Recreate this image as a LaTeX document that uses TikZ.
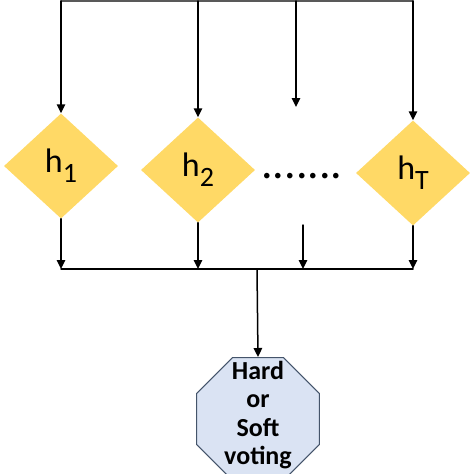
\documentclass[tikz,border=0pt]{standalone}
\usepackage{fontspec}
\setmainfont{Carlito}
\usepackage{tikz}
\usetikzlibrary{arrows.meta,shapes.geometric}
\definecolor{gold}{HTML}{FFD966}
\definecolor{paleblue}{HTML}{DAE3F3}
\definecolor{slate}{HTML}{44546A}
\newcommand{\hlabel}[1]{{\fontsize{34}{36}\selectfont h\raisebox{-10pt}{\fontsize{28}{30}\selectfont #1}}}
\tikzset{
  learner/.style={diamond,fill=gold,inner sep=0pt,minimum width=114pt,minimum height=105pt},
  voter/.style={regular polygon,regular polygon sides=8,fill=paleblue,draw=slate,line width=1.1pt,minimum size=133pt,inner sep=0pt},
  votetext/.style={align=center,inner sep=0pt,font=\bfseries\fontsize{26}{28.5}\selectfont},
  flow/.style={-{Triangle[length=9pt,width=8.5pt]},line width=1.5pt}
}
\begin{document}
\begin{tikzpicture}[line cap=round,line join=round,x=1pt,y=-1pt]
\useasboundingbox (0,0) rectangle (474,474);
% base learners
\node[learner] (h1) at (61,166) {\hlabel{1}};
\node[learner] (h2) at (198,170) {\hlabel{2}};
\node[learner] (hT) at (413,173) {\hlabel{T}};
\node[font=\fontsize{46}{46}\selectfont] (dots) at (302,176) {.......};
% combiner
\node[voter] (vote) at (258,419) {};
\node[votetext,anchor=north] (votelbl) at (258,361) {Hard\\or\\Soft\\voting};
% input bus
\coordinate (in1) at (61,1);
\coordinate (in2) at (198,1);
\coordinate (in3) at (296,1);
\coordinate (inT) at (413,1);
\coordinate (gap) at (296,107);
\draw [line width=1.8pt,black!65] (in1) -- (inT);
\draw [flow] (in1) -- (h1.north);
\draw [flow] (in2) -- (h2.north);
\draw [flow] (in3) -- (gap);
\draw [flow] (inT) -- (hT.north);
% output bus
\coordinate (out1) at (61,269);
\coordinate (out2) at (198,269);
\coordinate (out3) at (303,269);
\coordinate (outT) at (413,269);
\coordinate (gapout) at (303,225);
\coordinate (join) at (257,269);
\draw [flow] (h1.south) -- (out1);
\draw [flow] (h2.south) -- (out2);
\draw [flow] (gapout) -- (out3);
\draw [flow] (hT.south) -- (outT);
\draw [line width=1.5pt] (out1) -- (outT);
\draw [flow] (join) -- (vote.north);
\end{tikzpicture}
\end{document}
